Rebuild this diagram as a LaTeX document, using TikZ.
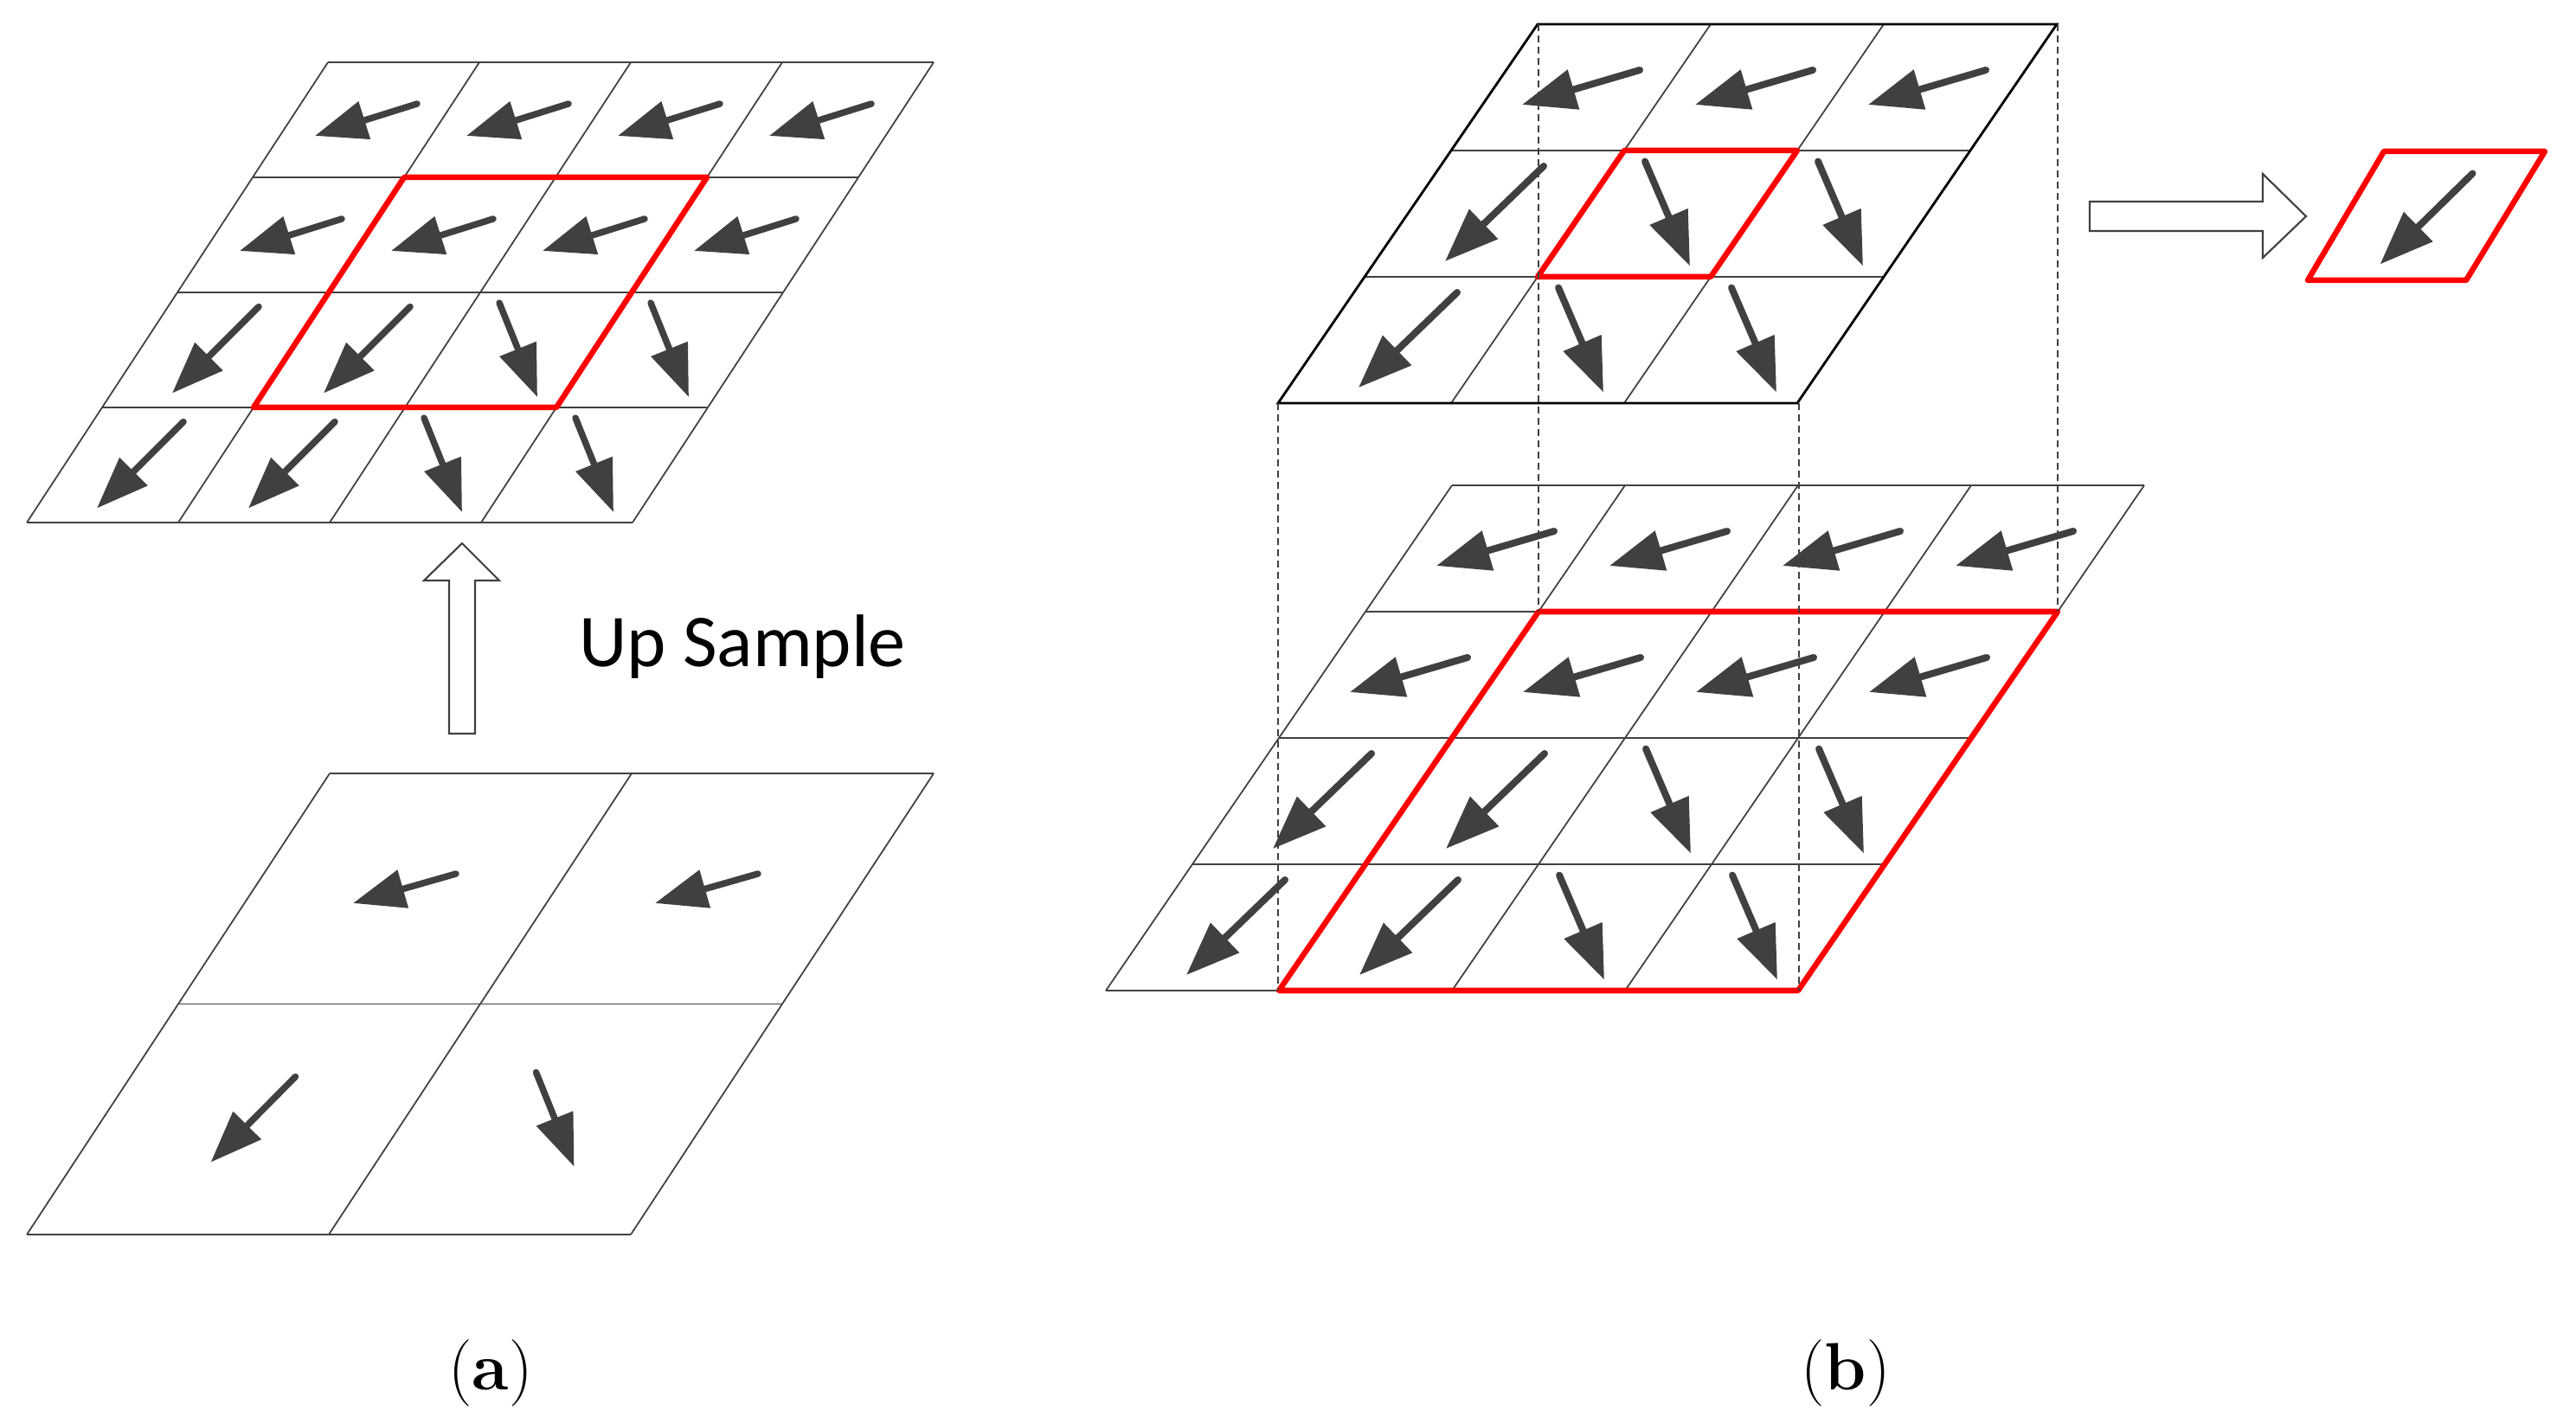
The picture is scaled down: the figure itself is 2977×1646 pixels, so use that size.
\documentclass[tikz,border=0pt]{standalone}
\usepackage{fontspec}
\newfontfamily\labelfont{Carlito}
\usepackage{tikz}
\usetikzlibrary{arrows.meta, calc}

% parallelogram grid: blx, bly, cols, rows, w, h, skew
\newcommand{\pgrid}[7]{%
  \foreach \j in {0,...,#4} \draw[cell] ({#1+\j*#7},{#2-\j*#6}) -- ++({#3*#5},0);
  \foreach \i in {0,...,#3} \draw[cell] ({#1+\i*#5},#2) -- ++({#4*#7},{-#4*#6});}
% field arrow centred at (x,y) with vector (dx,dy)
\newcommand{\fld}[5][]{%
  \draw[vec,#1] ({#2-0.5*(#4)},{#3-0.5*(#5)}) -- ({#2+0.5*(#4)},{#3+0.5*(#5)});}

\begin{document}
\begin{tikzpicture}[x=0.01cm,y=-0.01cm,
  cell/.style={line width=0.5pt,draw=black!75},
  vec/.style={line width=0.08cm,draw=black!75,line cap=round,
    -{Triangle[length=0.62cm,width=0.46cm]}},
  small/.style={line width=0.075cm,-{Triangle[length=0.6cm,width=0.44cm]}},
  sel/.style={draw=red,line width=0.065cm,line join=round},
  hollow/.style={draw=black!75,line width=0.6pt,fill=white},
  guide/.style={draw=black!75,line width=0.4pt,dash pattern=on 0.08cm off 0.05cm}]
\useasboundingbox (0,0) rectangle (2977,1646);

% (a) upper fine grid
\pgrid{31}{604}{4}{4}{175}{133}{87}
\foreach \r in {0,...,3}{\foreach \c in {0,...,3}{
  \pgfmathsetmacro\k{3-\r}
  \ifnum\r<2 \def\vx{-118}\def\vy{37}\else
    \ifnum\c<2 \def\vx{-100}\def\vy{100}\else\def\vx{44}\def\vy{109}\fi\fi
  \fld[small]{31+\c*175+(\k+0.5)*87+87.5}{604-(\k+0.5)*133}{\vx}{\vy}
}}
\draw[sel] (293,471) -- (643,471) -- (817,205) -- (467,205) -- cycle;

% (a) lower coarse grid
\pgrid{31}{1427}{2}{2}{349}{266.5}{175}
\fld[small]{31+262+174.5}{1027}{-119}{34}
\fld[small]{31+262+349+174.5}{1027}{-119}{34}
\fld[small]{31+87+174.5}{1294}{-98}{99}
\fld[small]{31+87+349+174.5}{1294}{44}{109}

% up sample arrow
\draw[hollow] (519,848) -- (549,848) -- (549,671) -- (577,671) -- (534,628)
  -- (490,671) -- (519,671) -- cycle;
\node (upl) at (858,748) {\labelfont\fontsize{24.5}{24.5}\selectfont Up Sample};
\node (la) at (567,1587) {\fontsize{22}{22}\selectfont(\textbf{a})};

% (b) lower fine grid
\pgrid{1278}{1145}{4}{4}{200}{146}{100}
\foreach \r in {0,...,3}{\foreach \c in {0,...,3}{
  \pgfmathsetmacro\k{3-\r}
  \ifnum\r<2 \def\vx{-136}\def\vy{40}\else
    \ifnum\c<2 \def\vx{-114}\def\vy{110}\else\def\vx{52}\def\vy{121}\fi\fi
  \fld{1278+\c*200+(\k+0.5)*100+100}{1145-(\k+0.5)*146}{\vx}{\vy}
}}
\draw[sel] (1478,1145) -- (2078,1145) -- (2378,707) -- (1778,707) -- cycle;

% (b) upper pooled grid
\pgrid{1477}{466}{3}{3}{200}{146}{100}
\draw[line width=0.8pt] (1477,466) -- (2077,466) -- (2377,28) -- (1777,28) -- cycle;
\foreach \r in {0,...,2}{\foreach \c in {0,...,2}{
  \pgfmathsetmacro\k{2-\r}
  \ifnum\r<1 \def\vx{-136}\def\vy{40}\else
    \ifnum\c<1 \def\vx{-114}\def\vy{110}\else\def\vx{52}\def\vy{121}\fi\fi
  \fld{1477+\c*200+(\k+0.5)*100+100}{466-(\k+0.5)*146}{\vx}{\vy}
}}
\draw[sel] (1777,320) -- (1977,320) -- (2077,174) -- (1877,174) -- cycle;

% projection guides
\draw[guide] (1477,466) -- (1477,1145);
\draw[guide] (2079,466) -- (2079,1145);
\draw[guide] (1778,28) -- (1778,707);
\draw[guide] (2378,28) -- (2378,707);

% output
\draw[hollow] (2415,233) -- (2615,233) -- (2615,201) -- (2665,250) -- (2615,298)
  -- (2615,267) -- (2415,267) -- cycle;
\draw[sel] (2667,324) -- (2850,324) -- (2941,175) -- (2755,175) -- cycle;
\fld{2804}{253}{-107}{105}
\node (lb) at (2133,1587) {\fontsize{22}{22}\selectfont(\textbf{b})};
\end{tikzpicture}
\end{document}
